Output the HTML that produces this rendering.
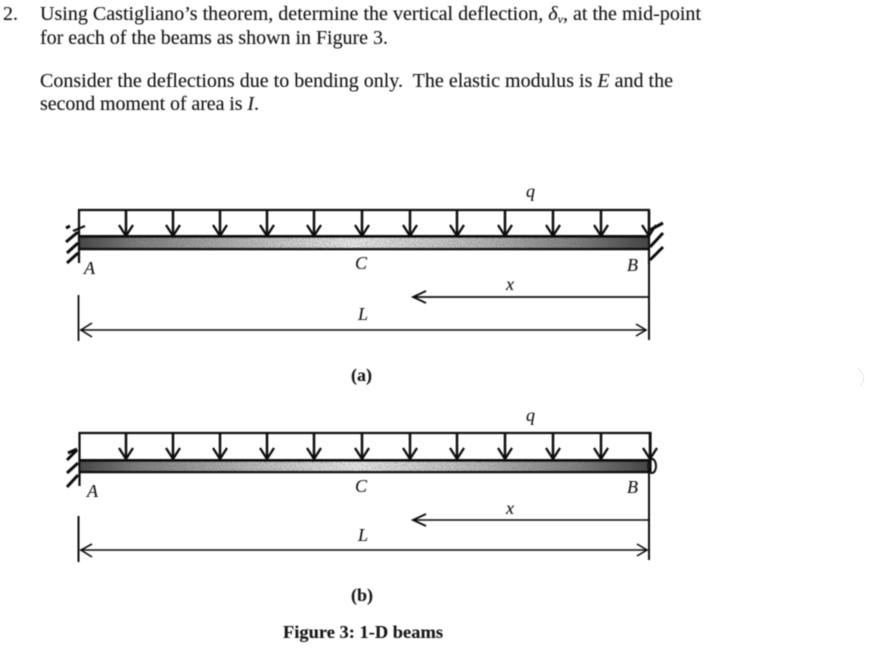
<!DOCTYPE html>
<html>
<head>
<meta charset="utf-8">
<style>
html,body{margin:0;padding:0;background:#fff;width:873px;height:654px;overflow:hidden}
svg{display:block}
text{font-family:"Liberation Serif",serif;fill:#141414;stroke:#141414;white-space:pre}
.t{font-size:20px;stroke-width:.1px}
.l{font-size:18px;font-style:italic;stroke-width:.1px}
.b{font-size:18px;font-weight:bold;stroke-width:.1px}
</style>
</head>
<body>
<svg width="873" height="654" viewBox="0 0 873 654" xmlns="http://www.w3.org/2000/svg">
<defs>
<linearGradient id="g" x1="0" x2="1" y1="0" y2="0">
<stop offset="0" stop-color="#444"/><stop offset=".1" stop-color="#808080"/><stop offset=".28" stop-color="#b8b8b8"/>
<stop offset=".48" stop-color="#ededed"/><stop offset=".7" stop-color="#bdbdbd"/><stop offset=".88" stop-color="#808080"/><stop offset="1" stop-color="#404040"/>
</linearGradient>
<filter id="s" x="-2%" y="-2%" width="104%" height="104%"><feGaussianBlur stdDeviation="0.45"/></filter>
<filter id="n" x="0" y="0" width="100%" height="100%">
<feTurbulence type="fractalNoise" baseFrequency="0.8" numOctaves="2" seed="4" result="t"/>
<feColorMatrix in="t" type="matrix" values="0 0 0 0 0.1 0 0 0 0 0.1 0 0 0 0 0.1 1.6 0 0 0 -0.62" result="d"/>
<feComposite in="d" in2="SourceGraphic" operator="in" result="c"/>
<feMerge><feMergeNode in="SourceGraphic"/><feMergeNode in="c"/></feMerge>
</filter>
<g id="arrow" fill="none" stroke="#0c0c0c" stroke-width="2.500">
<path d="M0 0V24"/><path d="M-7 14L0 25L7 14" stroke-width="2.300"/>
</g>
</defs>
<rect width="873" height="654" fill="#fff"/>
<g filter="url(#s)">
<text class="t" x="3" y="20">2.</text>
<text class="t" x="40" y="20" textLength="661" lengthAdjust="spacing">Using Castigliano’s theorem, determine the vertical deflection, <tspan font-style="italic">δ<tspan font-size="12" dy="3">v</tspan></tspan><tspan dy="-3">, at the mid-point</tspan></text>
<text class="t" x="40" y="44" textLength="348">for each of the beams as shown in Figure 3.</text>
<text class="t" x="40" y="87" textLength="633">Consider the deflections due to bending only.  The elastic modulus is <tspan font-style="italic">E</tspan> and the</text>
<text class="t" x="40" y="110" textLength="219">second moment of area is <tspan font-style="italic">I</tspan>.</text>

<!-- Beam a -->
<rect x="80" y="237" width="568" height="12" fill="url(#g)" filter="url(#n)"/>
<g fill="none" stroke="#0c0c0c">
<path d="M79 236.500H648" stroke-width="3"/>
<path d="M79 249H648" stroke-width="2.400"/>
<path d="M79 263V210H649V264" stroke-width="2.200"/>
<path d="M66 242L78 232M67 253L78 243M67 263L78 253M66 228L70 226" stroke-width="3"/>
<path d="M650 230L663 223M650 247L663 233M650 260L663 247" stroke-width="3"/>
<path d="M73 231L85 226" stroke-width="2.200"/>
<path d="M78.500 295V341" stroke-width="1.800"/>
<path d="M649 264V340" stroke-width="2"/>
<path d="M80 330H646" stroke-width="1.500"/>
<path d="M92 323L81 330L92 337M636 324L646 330L636 336" stroke-width="1.600"/>
<path d="M413 297H648" stroke-width="1.700"/>
<path d="M426 291L413 297L426 303" stroke-width="1.800"/>
</g>
<use href="#arrow" x="126" y="211"/><use href="#arrow" x="173" y="211"/><use href="#arrow" x="220" y="211"/>
<use href="#arrow" x="267" y="211"/><use href="#arrow" x="314" y="211"/><use href="#arrow" x="362" y="211"/>
<use href="#arrow" x="410" y="211"/><use href="#arrow" x="457" y="211"/><use href="#arrow" x="505" y="211"/>
<use href="#arrow" x="553" y="211"/><use href="#arrow" x="601" y="211"/><use href="#arrow" x="649" y="211"/>
<text class="l" x="526" y="197">q</text>
<text class="l" x="84" y="274">A</text>
<text class="l" x="355" y="269">C</text>
<text class="l" x="627" y="271">B</text>
<text class="l" x="506" y="290">x</text>
<text class="l" x="358" y="320">L</text>
<text class="b" x="351" y="381">(a)</text>

<!-- Beam b -->
<rect x="80" y="461" width="570" height="11" fill="url(#g)" filter="url(#n)"/>
<g fill="none" stroke="#0c0c0c">
<path d="M80 460.500H650" stroke-width="3"/>
<path d="M80 472H650" stroke-width="2.400"/>
<path d="M79.500 486V433H650.500V472" stroke-width="2.200"/>
<path d="M67 460L77 450M67 473L78 463M67 487L78 475M68 453L77 449" stroke-width="3"/>
<ellipse cx="652" cy="466" rx="4" ry="7" stroke-width="2"/>
<path d="M78.500 516V562" stroke-width="2"/>
<path d="M649 473V560" stroke-width="2"/>
<path d="M80 550H647" stroke-width="1.500"/>
<path d="M92 544L81 550L92 557M637 544L647 550L637 556" stroke-width="1.600"/>
<path d="M413 520H648" stroke-width="1.600"/>
<path d="M426 514L413 520L426 526" stroke-width="1.800"/>
</g>
<use href="#arrow" x="126" y="434"/><use href="#arrow" x="173" y="434"/><use href="#arrow" x="220" y="434"/>
<use href="#arrow" x="267" y="434"/><use href="#arrow" x="314" y="434"/><use href="#arrow" x="362" y="434"/>
<use href="#arrow" x="410" y="434"/><use href="#arrow" x="457" y="434"/><use href="#arrow" x="505" y="434"/>
<use href="#arrow" x="553" y="434"/><use href="#arrow" x="601" y="434"/><use href="#arrow" x="650" y="434"/>
<text class="l" x="526" y="421">q</text>
<text class="l" x="87" y="497">A</text>
<text class="l" x="355" y="492">C</text>
<text class="l" x="627" y="493">B</text>
<text class="l" x="506" y="514">x</text>
<text class="l" x="358" y="541">L</text>
<text class="b" x="351" y="601">(b)</text>
<text class="b" x="283" y="638" textLength="160" lengthAdjust="spacingAndGlyphs">Figure 3: 1-D beams</text>
</g>
<path d="M857 368Q869 377 860 386" fill="none" stroke="#e8e8e8" stroke-width="1"/>
</svg>
</body>
</html>
